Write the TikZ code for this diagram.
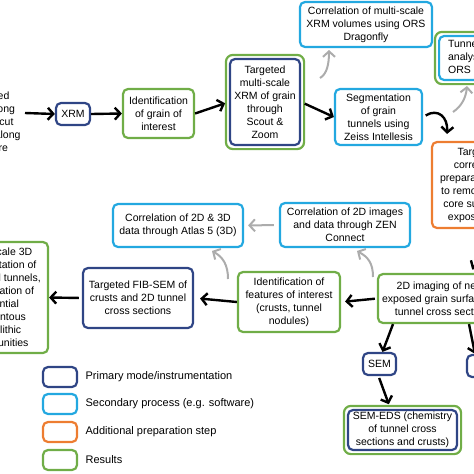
\documentclass[tikz,border=0pt]{standalone}
\usepackage{fontspec}
\setmainfont{Liberation Sans}
\usepackage{tikz}
\usetikzlibrary{arrows.meta}
\definecolor{navy}{RGB}{47,69,133}
\definecolor{cyanb}{RGB}{35,168,224}
\definecolor{orng}{RGB}{237,125,49}
\definecolor{grn}{RGB}{112,173,71}
\definecolor{gry}{RGB}{172,172,172}

\begin{document}
\begin{tikzpicture}[x=1pt,y=-1pt,>={Straight Barb[length=5.5pt,width=12pt]},
  txt/.style={font=\fontsize{10.5}{13}\selectfont},
  box/.style={txt,draw,rounded corners=5pt,line width=2.2pt,align=center,inner sep=2pt},
  prim/.style={box,draw=navy},
  sec/.style={box,draw=cyanb},
  prepbox/.style={box,draw=orng},
  res/.style={box,draw=grn},
  rim/.style={draw=grn,line width=2.2pt,rounded corners=7pt},
  blk/.style={->,line width=2.4pt},
  gra/.style={->,line width=2pt,gry}]
        \useasboundingbox (0,0) rectangle (474,474);
        \clip (0,0) rectangle (474,474);
        % top row
        \node[txt,align=center] (core) at (-11,122) {Selected\\grain along\\a fresh cut\\surface along\\the core};
        \node[prim,minimum width=34,minimum height=22] (xrm) at (73,114) {XRM};
        \node[res,minimum width=71,minimum height=49] (ident) at (158.5,113.5) {Identification\\of grain of\\interest};
        \node[prim,minimum width=70,minimum height=86] (scout) at (265,102) {Targeted\\multi-scale\\XRM of grain\\through\\Scout \&\\Zoom};
        \draw[rim] ([shift={(-3pt,3pt)}]scout.north west) rectangle ([shift={(3pt,-3pt)}]scout.south east);
        \node[sec,minimum width=87,minimum height=56] (seg) at (378.5,117) {Segmentation\\of grain\\tunnels using\\Zeiss Intellesis};
        \node[sec,minimum width=132,minimum height=45] (dragon) at (366,24.5) {Correlation of multi-scale\\XRM volumes using ORS\\Dragonfly};
        \node[sec,anchor=west,align=left,inner xsep=9pt,minimum height=44] (tunnel) at (438,58) {Tunnel\\analysis using\\ORS Dragonfly};
        \draw[rim] ([shift={(-3pt,3pt)}]tunnel.north west) rectangle ([shift={(3pt,-3pt)}]tunnel.south east);
        \node[prepbox,minimum width=92,minimum height=86] (expose) at (478,185) {Targeted\\correlative\\preparation step\\to remove outer\\core surface to\\expose grain};
        % middle row
        \node[sec,minimum width=130,minimum height=43] (atlas) at (178,225.5) {Correlation of 2D \& 3D\\data through Atlas 5 (3D)};
        \node[sec,minimum width=130,minimum height=44] (zen) at (345,225) {Correlation of 2D images\\and data through ZEN\\Connect};
        \node[res,minimum width=98,minimum height=111] (multi) at (-1,297.5) {Multi-scale 3D\\segmentation of\\grain and tunnels,\\identification of\\potential\\filamentous\\endolithic\\communities};
        \node[prim,minimum width=110,minimum height=60] (fib) at (138,298) {Targeted FIB-SEM of\\crusts and 2D tunnel\\cross sections};
        \node[res,minimum width=102,minimum height=60] (feat) at (289,302) {Identification of\\features of interest\\(crusts, tunnel\\nodules)};
        \node[res,minimum width=132,minimum height=49] (img) at (444,298.5) {2D imaging of newly\\exposed grain surface and\\tunnel cross sections};
        \node[prim,minimum width=33,minimum height=22] (sem) at (379.5,364) {SEM};
        \node[prim,minimum width=40,minimum height=22] (lm) at (487,366) {};
        \node[prim,minimum width=109,minimum height=40] (eds) at (402.5,430) {SEM-EDS (chemistry\\of tunnel cross\\sections and crusts)};
        \draw[rim] ([shift={(-3pt,3pt)}]eds.north west) rectangle ([shift={(3pt,-3pt)}]eds.south east);
        % legend
        \foreach \y/\c/\t/\n in {377/navy/Primary mode\slash instrumentation/l1,404/cyanb/Secondary process (e.g. software)/l2,432/orng/Additional preparation step/l3,460/grn/Results/l4}{
          \node[box,draw=\c,minimum width=34,minimum height=20] (\n) at (60,\y) {};
          \node[txt,anchor=west,font=\fontsize{11}{13}\selectfont] at ([xshift=4pt]\n.east) {\t};
        }
        % black arrows
        \coordinate (cs) at (25,113);
        \coordinate (segtip) at (447,134);
        \draw[blk] (cs) -- (xrm.west);
        \draw[blk] (xrm.east) -- (ident.west);
        \draw[blk,shorten >=4pt] (ident.east) -- (scout.west);
        \draw[blk,shorten <=4pt] (scout.east) -- (seg.west);
        \draw[blk,shorten <=3pt] (seg.east) .. controls (438,108) and (448,117) .. (segtip);
        \draw[blk,shorten >=4pt] ([xshift=20pt]expose.south) -- ([xshift=26pt]img.north);
        \draw[blk,shorten <=2pt,shorten >=4pt] (img.west) -- (feat.east);
        \draw[blk,shorten >=6pt] (feat.west) -- (fib.east);
        \draw[blk,shorten <=3pt] (fib.west) -- (multi.east);
        \draw[blk] ([xshift=-51pt]img.south) -- ([xshift=3pt]sem.north);
        \draw[blk] ([xshift=25pt]img.south) -- ([xshift=-12pt]lm.north);
        \draw[blk,shorten <=2pt,shorten >=5pt] ([xshift=-1pt]sem.south) -- ([xshift=-12pt]eds.north);
        % grey arrows
        \coordinate (g1) at (320,78);  \coordinate (g1t) at (329,50);
        \coordinate (g2) at (453,112); \coordinate (g2t) at (467,86);
        \coordinate (g3) at (228,279); \coordinate (g3t) at (212,251);
        \coordinate (g4) at (373,277); \coordinate (g4t) at (357,251);
        \draw[gra] (g1) .. controls (327,74) and (329,64) .. (g1t);
        \draw[gra] (g2) .. controls (462,106) and (466,97) .. (g2t);
        \draw[gra] (g3) .. controls (228,265) and (223,257) .. (g3t);
        \draw[gra] (g4) .. controls (373,263) and (368,257) .. (g4t);
        \draw[gra,shorten <=5pt,shorten >=4pt] (zen.west) -- (atlas.east);
\end{tikzpicture}
\end{document}
